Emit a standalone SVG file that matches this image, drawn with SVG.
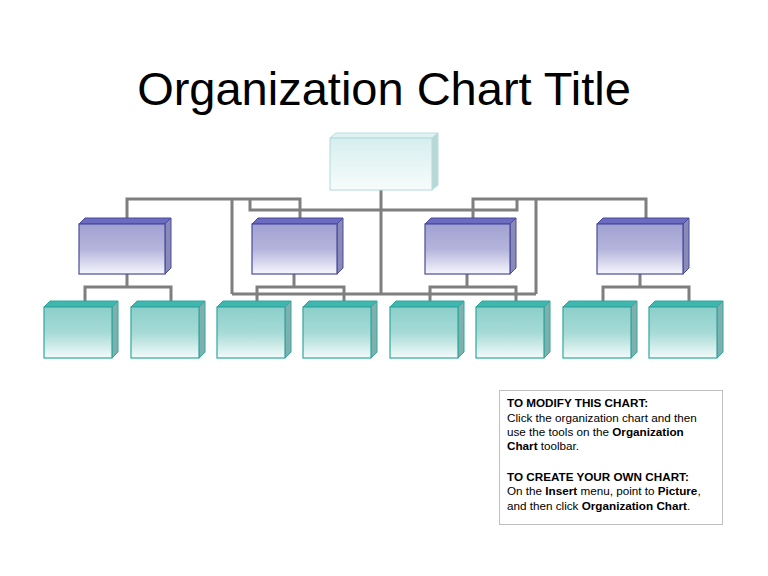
<svg xmlns="http://www.w3.org/2000/svg" width="768" height="576" viewBox="0 0 768 576">
<defs>
<linearGradient id="gTop" x1="0" y1="0" x2="0" y2="1"><stop offset="0" stop-color="#d6eeee"/><stop offset="1" stop-color="#f8fcfc"/></linearGradient>
<linearGradient id="gMgr" x1="0" y1="0" x2="0" y2="1"><stop offset="0" stop-color="#a2a2d2"/><stop offset="0.5" stop-color="#b4b4dc"/><stop offset="1" stop-color="#f6f6fc"/></linearGradient>
<linearGradient id="gLeaf" x1="0" y1="0" x2="0" y2="1"><stop offset="0" stop-color="#8ccfca"/><stop offset="0.5" stop-color="#a6dad6"/><stop offset="1" stop-color="#f2fbfa"/></linearGradient>
</defs>
<style>
.c{fill:none;stroke:#7f7f7f;stroke-width:3}
.mf{fill:url(#gMgr);stroke:#4a4a9e;stroke-width:1.2}
.mt{fill:#6b6bbf;stroke:#4a4a9e;stroke-width:1}
.ms{fill:#8a8ab8;stroke:#4a4a9e;stroke-width:1}
.lf{fill:url(#gLeaf);stroke:#2ea89f;stroke-width:1.2}
.lt{fill:#3fb6ae;stroke:#2ea89f;stroke-width:1}
.ls{fill:#7fb0ad;stroke:#2ea89f;stroke-width:1}
.t{font-family:"Liberation Sans",Arial,sans-serif;font-size:11.7px;fill:#000}
.b{font-weight:bold}
</style>
<rect width="768" height="576" fill="#fff"/>
<text x="384" y="105" text-anchor="middle" font-family="Liberation Sans,Arial,sans-serif" font-size="47" fill="#000">Organization Chart Title</text>
<g id="connectors">
<path class="c" d="M381 190V294M232 294H536M232 199V294M536 199V294"/>
<path class="c" d="M127 224V199H300V222M250 199V210H517V199M473 222V199H646V224"/>
<path class="c" d="M127 274V287M85 307V287H171V307"/>
<path class="c" d="M294 274V287M257 307V287H344V307"/>
<path class="c" d="M467 274V287M430 307V287H516V307"/>
<path class="c" d="M640 274V287M603 307V287H689V307"/>
</g>
<g id="top">
<polygon points="330,138 336,133 438,133 432,138" fill="#e0f2f2" stroke="#b8dede"/>
<polygon points="432,138 438,133 438,185 432,190" fill="#b8d8d8" stroke="#b8dede"/>
<rect x="330" y="138" width="102" height="52" fill="url(#gTop)" stroke="#b0dada"/>
</g>
<g id="m1"><polygon class="mt" points="79,224 85,218 171,218 165,224"/><polygon class="ms" points="165,224 171,218 171,268 165,274"/><rect class="mf" x="79" y="224" width="86" height="50"/></g>
<g id="m2"><polygon class="mt" points="252,224 258,218 343,218 337,224"/><polygon class="ms" points="337,224 343,218 343,268 337,274"/><rect class="mf" x="252" y="224" width="85" height="50"/></g>
<g id="m3"><polygon class="mt" points="425,224 431,218 516,218 510,224"/><polygon class="ms" points="510,224 516,218 516,268 510,274"/><rect class="mf" x="425" y="224" width="85" height="50"/></g>
<g id="m4"><polygon class="mt" points="597,224 603,218 689,218 683,224"/><polygon class="ms" points="683,224 689,218 689,268 683,274"/><rect class="mf" x="597" y="224" width="86" height="50"/></g>
<g id="l1"><polygon class="lt" points="44,307 50,301 118,301 112,307"/><polygon class="ls" points="112,307 118,301 118,352 112,358"/><rect class="lf" x="44" y="307" width="68" height="51"/></g>
<g id="l2"><polygon class="lt" points="131,307 137,301 205,301 199,307"/><polygon class="ls" points="199,307 205,301 205,352 199,358"/><rect class="lf" x="131" y="307" width="68" height="51"/></g>
<g id="l3"><polygon class="lt" points="217,307 223,301 291,301 285,307"/><polygon class="ls" points="285,307 291,301 291,352 285,358"/><rect class="lf" x="217" y="307" width="68" height="51"/></g>
<g id="l4"><polygon class="lt" points="303,307 309,301 377,301 371,307"/><polygon class="ls" points="371,307 377,301 377,352 371,358"/><rect class="lf" x="303" y="307" width="68" height="51"/></g>
<g id="l5"><polygon class="lt" points="390,307 396,301 464,301 458,307"/><polygon class="ls" points="458,307 464,301 464,352 458,358"/><rect class="lf" x="390" y="307" width="68" height="51"/></g>
<g id="l6"><polygon class="lt" points="476,307 482,301 550,301 544,307"/><polygon class="ls" points="544,307 550,301 550,352 544,358"/><rect class="lf" x="476" y="307" width="68" height="51"/></g>
<g id="l7"><polygon class="lt" points="563,307 569,301 637,301 631,307"/><polygon class="ls" points="631,307 637,301 637,352 631,358"/><rect class="lf" x="563" y="307" width="68" height="51"/></g>
<g id="l8"><polygon class="lt" points="649,307 655,301 723,301 717,307"/><polygon class="ls" points="717,307 723,301 723,352 717,358"/><rect class="lf" x="649" y="307" width="68" height="51"/></g>
<g id="note">
<rect x="499.5" y="390.5" width="223" height="134" fill="#fff" stroke="#bfbfbf"/>
<text class="t b" x="507" y="407">TO MODIFY THIS CHART:</text>
<text class="t" x="507" y="422">Click the organization chart and then</text>
<text class="t" x="507" y="436">use the tools on the <tspan class="b">Organization</tspan></text>
<text class="t" x="507" y="450"><tspan class="b">Chart</tspan> toolbar.</text>
<text class="t b" x="507" y="481">TO CREATE YOUR OWN CHART:</text>
<text class="t" x="507" y="495">On the <tspan class="b">Insert</tspan> menu, point to <tspan class="b">Picture</tspan>,</text>
<text class="t" x="507" y="510">and then click <tspan class="b">Organization Chart</tspan>.</text>
</g>
</svg>
